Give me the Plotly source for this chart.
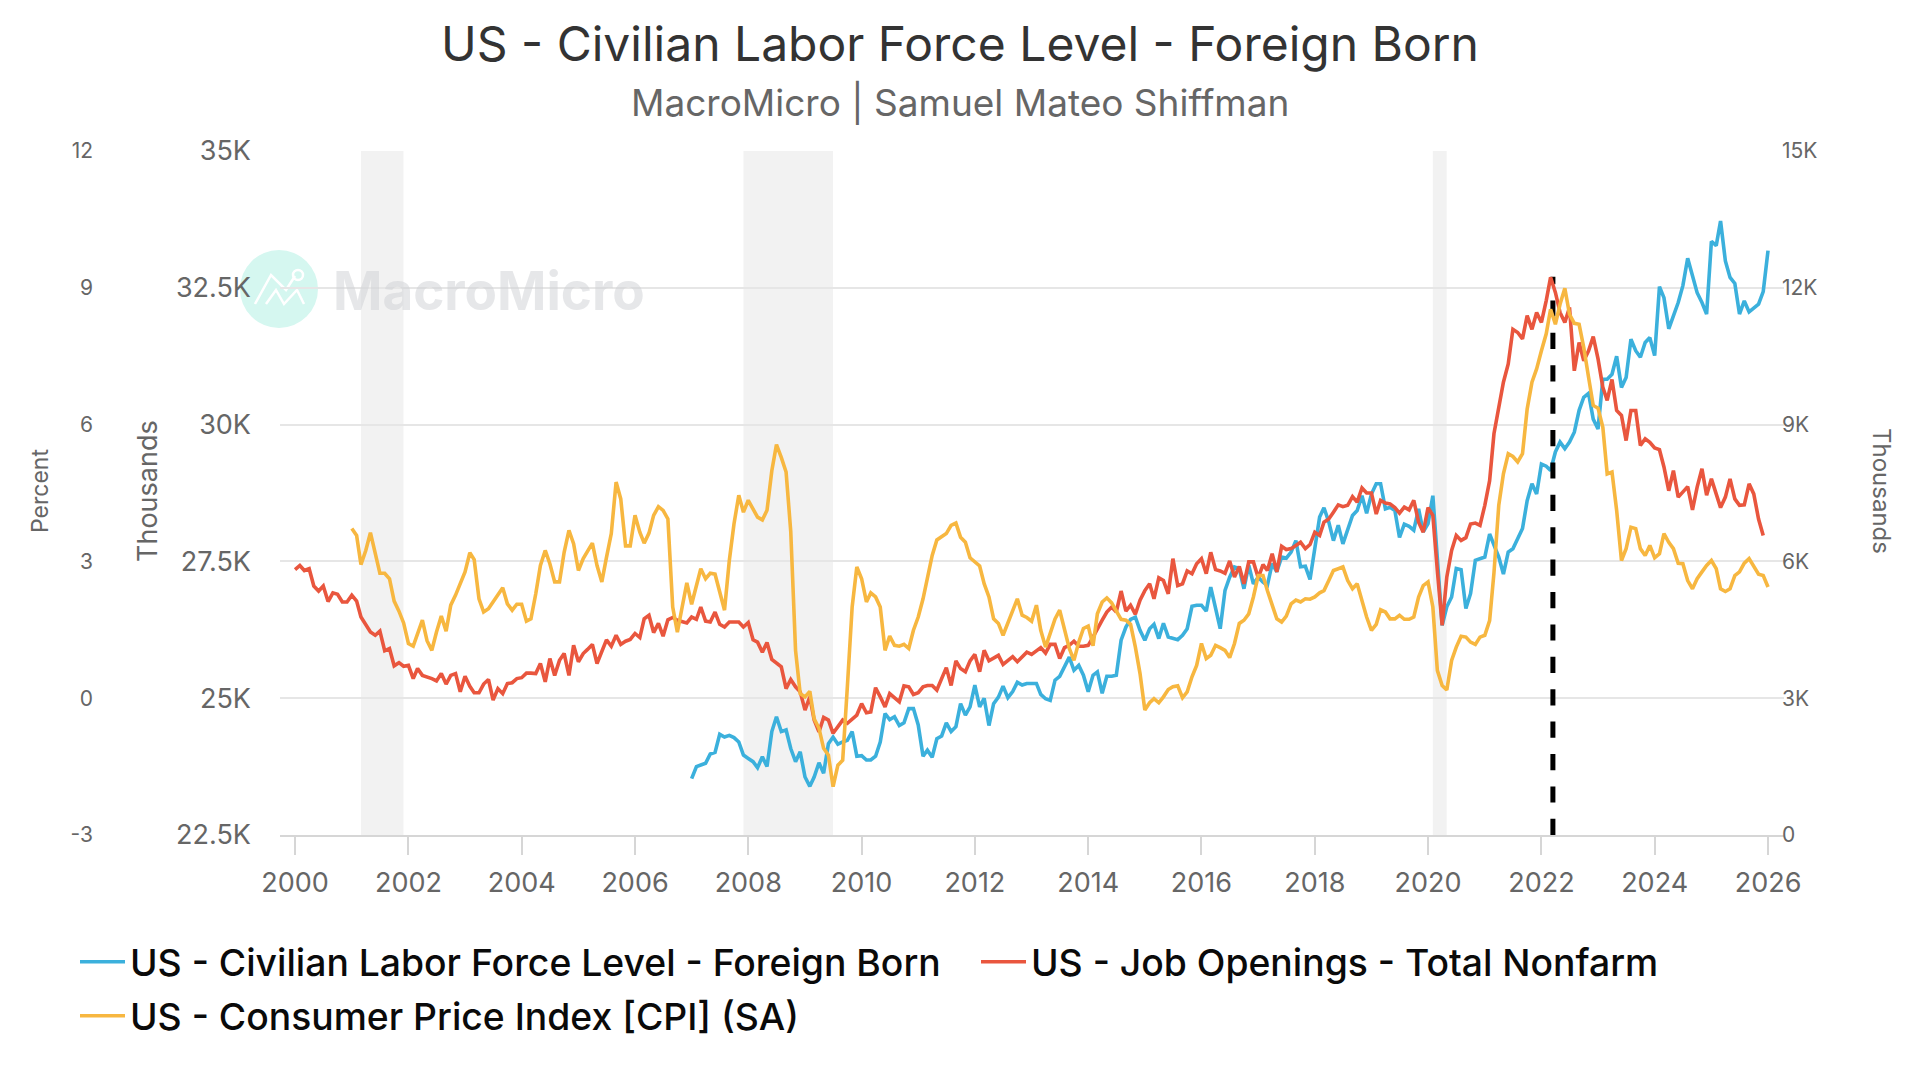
import pandas as pd
import plotly.graph_objects as go

W, H = 1920, 1080
FONT = "Inter"

# Monthly series, grouped by calendar year
labor_force = [
    23.53,23.75,23.78,23.81,23.98,24.01,24.34,24.29,24.32,24.28,24.20,23.96,
    23.90,23.84,23.73,23.93,23.75,24.39,24.66,24.39,24.42,24.08,23.84,24.02,
    23.56,23.39,23.56,23.82,23.63,24.17,24.29,24.16,24.20,24.23,24.39,23.94,
    23.95,23.87,23.87,23.94,24.20,24.72,24.61,24.66,24.50,24.55,24.81,24.81,
    24.51,23.94,24.05,23.92,24.26,24.31,24.55,24.39,24.48,24.90,24.69,24.84,
    25.24,24.84,25.00,24.50,24.90,25.02,25.22,25.01,25.12,25.29,25.24,25.27,
    25.27,25.27,25.07,24.99,24.96,25.33,25.40,25.57,25.75,25.51,25.60,25.42,
    25.12,25.42,25.48,25.09,25.40,25.40,25.42,26.06,26.30,26.44,26.48,26.24,
    26.06,26.27,26.35,26.09,26.37,26.12,26.10,26.07,26.15,26.27,26.68,26.70,
    26.70,26.59,27.03,26.67,26.27,26.97,27.21,27.40,27.37,27.00,27.43,27.09,
    27.21,27.12,27.06,27.46,27.31,27.58,27.56,27.67,27.88,27.40,27.41,27.17,
    27.76,28.31,28.48,28.22,27.88,28.16,27.82,28.07,28.34,28.43,28.70,28.38,
    28.73,28.92,28.92,28.46,28.49,28.43,27.94,28.18,28.14,28.07,28.46,28.04,
    28.19,28.70,27.64,26.33,26.67,26.85,27.37,27.35,26.64,26.91,27.52,27.55,
    27.58,28.00,27.82,27.58,27.27,27.67,27.73,27.91,28.10,28.61,28.92,28.73,
    29.28,29.24,29.16,29.50,29.68,29.56,29.68,29.86,30.26,30.50,30.57,30.10,
    29.92,30.83,30.83,30.92,31.25,30.68,30.86,31.56,31.35,31.23,31.50,31.59,
    31.26,32.52,32.32,31.75,31.99,32.23,32.54,33.04,32.72,32.41,32.23,32.02,
    33.35,33.27,33.72,32.99,32.69,32.58,32.02,32.26,32.06,32.13,32.20,32.43,
    33.18,
]
job_openings = [
    5.82,5.91,5.80,5.84,5.46,5.35,5.46,5.12,5.31,5.28,5.11,5.11,
    5.26,5.13,4.78,4.62,4.45,4.38,4.47,4.04,4.09,3.71,3.78,3.70,
    3.72,3.43,3.65,3.50,3.47,3.43,3.38,3.54,3.31,3.50,3.54,3.14,
    3.48,3.26,3.12,3.12,3.31,3.41,2.96,3.21,3.10,3.32,3.34,3.43,
    3.45,3.55,3.55,3.54,3.76,3.36,3.87,3.50,3.83,3.98,3.50,4.16,
    3.80,3.98,4.07,4.18,3.76,4.05,4.28,4.14,4.38,4.18,4.25,4.29,
    4.42,4.33,4.74,4.82,4.44,4.64,4.36,4.72,4.77,4.71,4.67,4.65,
    4.78,4.73,5.00,4.69,4.67,4.89,4.62,4.56,4.67,4.67,4.67,4.56,
    4.66,4.28,4.23,4.01,4.22,3.85,3.76,3.69,3.21,3.41,3.25,3.14,
    2.74,3.03,2.52,2.26,2.58,2.52,2.23,2.37,2.52,2.45,2.55,2.63,
    2.88,2.68,2.70,3.23,3.03,2.81,3.10,3.01,2.92,3.27,3.25,3.08,
    3.12,3.25,3.28,3.28,3.18,3.43,3.67,3.28,3.82,3.65,3.58,3.82,
    3.96,3.58,4.05,3.82,3.87,3.94,3.74,3.82,3.91,3.80,3.91,4.01,
    3.96,4.04,4.11,3.99,4.18,4.18,3.87,4.11,4.16,4.25,4.14,4.14,
    4.16,4.34,4.53,4.71,4.89,5.00,4.89,5.35,4.91,5.04,4.84,5.15,
    5.36,5.51,5.18,5.64,5.58,5.29,6.06,5.47,5.51,5.79,5.73,5.95,
    6.06,5.73,6.20,5.82,5.79,5.74,6.01,5.66,5.89,5.51,5.99,5.99,
    5.64,5.93,5.80,6.17,5.77,6.33,6.26,6.28,6.35,6.42,6.28,6.37,
    6.64,6.57,6.86,6.93,7.08,7.24,7.20,7.23,7.42,7.30,7.61,7.50,
    7.50,7.04,7.34,7.28,7.26,7.18,7.06,7.19,7.13,7.34,6.86,6.64,
    7.18,7.01,5.80,4.60,5.66,6.24,6.57,6.46,6.52,6.82,6.84,6.79,
    7.23,7.77,8.80,9.38,9.93,10.33,11.09,11.02,10.88,11.39,11.09,11.46,
    11.24,11.72,12.23,11.90,11.46,11.24,11.57,10.18,10.80,10.40,10.62,10.93,
    10.44,9.82,9.53,9.99,9.31,9.20,8.65,9.31,9.31,8.54,8.69,8.61,
    8.49,8.45,8.07,7.55,7.99,7.41,7.52,7.64,7.13,7.63,8.03,7.45,
    7.81,7.48,7.18,7.41,7.81,7.37,7.23,7.24,7.70,7.48,6.93,6.57,
]
cpi = [
    3.72,3.57,2.93,3.24,3.63,3.20,2.74,2.74,2.62,2.13,1.91,1.65,
    1.20,1.14,1.42,1.71,1.26,1.05,1.45,1.80,1.47,2.04,2.26,2.50,
    2.77,3.19,3.04,2.18,1.89,1.96,2.11,2.28,2.42,2.07,1.93,2.06,
    2.06,1.69,1.74,2.29,2.91,3.24,2.95,2.55,2.55,3.20,3.68,3.39,
    2.80,3.06,3.24,3.40,2.91,2.55,3.09,3.61,4.74,4.37,3.34,3.34,
    4.01,3.64,3.40,3.62,4.01,4.20,4.12,3.93,2.00,1.45,2.00,2.53,
    2.06,2.44,2.84,2.62,2.74,2.72,2.31,1.93,3.02,3.82,4.45,4.08,
    4.34,4.15,3.97,3.91,4.12,4.99,5.56,5.28,4.96,3.66,1.05,0.10,
    0.03,0.15,-0.45,-0.66,-1.10,-1.25,-1.94,-1.47,-1.36,0.25,2.00,2.88,
    2.62,2.11,2.31,2.22,2.00,1.05,1.36,1.16,1.14,1.18,1.09,1.49,
    1.78,2.18,2.66,3.13,3.47,3.53,3.61,3.79,3.84,3.53,3.42,3.08,
    2.99,2.90,2.51,2.22,1.74,1.64,1.38,1.65,1.91,2.18,1.82,1.77,
    1.69,2.04,1.49,1.12,1.42,1.74,1.93,1.49,1.09,0.83,1.23,1.53,
    1.58,1.15,1.85,2.11,2.20,2.09,1.93,1.73,1.71,1.62,1.12,0.54,
    -0.26,-0.10,-0.01,-0.10,0.03,0.19,0.25,0.27,0.01,0.14,0.47,0.72,
    1.20,0.87,0.94,1.16,1.11,1.05,0.89,1.20,1.64,1.71,1.85,2.22,
    2.69,2.69,2.36,2.04,1.74,1.67,1.80,2.07,2.15,2.11,2.18,2.17,
    2.22,2.31,2.36,2.58,2.80,2.84,2.88,2.58,2.40,2.51,2.11,1.78,
    1.49,1.62,1.94,1.89,1.74,1.74,1.82,1.73,1.73,1.78,2.22,2.47,
    2.55,2.00,0.61,0.28,0.18,0.83,1.12,1.36,1.34,1.23,1.18,1.34,
    1.38,1.70,2.75,4.23,4.92,5.36,5.30,5.18,5.36,6.34,6.93,7.22,
    7.62,7.99,8.53,8.20,8.64,8.99,8.42,8.22,8.20,7.69,7.04,6.42,
    6.36,5.94,4.92,4.96,4.12,3.02,3.28,3.75,3.72,3.28,3.13,3.35,
    3.08,3.17,3.61,3.42,3.28,2.96,2.95,2.58,2.40,2.62,2.77,2.91,
    3.02,2.84,2.40,2.34,2.40,2.69,2.77,2.96,3.06,2.89,2.72,2.69,
    2.44,
]

labor_dates = pd.date_range("2007-01-01", periods=len(labor_force), freq="MS")
jobs_dates = pd.date_range("2000-01-01", periods=len(job_openings), freq="MS")
cpi_dates = pd.date_range("2001-01-01", periods=len(cpi), freq="MS")

recessions = [("2001-03-01", "2001-11-30"), ("2007-12-01", "2009-06-30"), ("2020-02-01", "2020-04-30")]
marker_date = ["2022-03-16", "2022-03-16"]
marker_span = [0, 12.24]

left_vals = [22.5, 25, 27.5, 30, 32.5, 35]
left_text = ["22.5K", "25K", "27.5K", "30K", "32.5K", "35K"]
right_vals = [0, 3, 6, 9, 12, 15]
right_text = ["0", "3K", "6K", "9K", "12K", "15K"]
pct_vals = [-3, 0, 3, 6, 9, 12]
pct_text = ["-3", "0", "3", "6", "9", "12"]

BLUE, RED, YELLOW = "#3BB0DC", "#E9563E", "#F7B740"
PLOT_L, PLOT_R, PLOT_T, PLOT_B = 280, 1784, 151, 835


def fx(px):
    return px / W


def fy(px):
    return 1 - px / H


fig = go.Figure()
fig.add_trace(go.Scatter(x=labor_dates, y=labor_force, mode="lines", yaxis="y",
                         name="US - Civilian Labor Force Level - Foreign Born",
                         line=dict(color=BLUE, width=3.6), legend="legend"))
fig.add_trace(go.Scatter(x=marker_date, y=marker_span, mode="lines", yaxis="y2", showlegend=False,
                         line=dict(color="#000000", width=5, dash="16.2px,16.2px"), hoverinfo="skip"))
fig.add_trace(go.Scatter(x=jobs_dates, y=job_openings, mode="lines", yaxis="y2",
                         name="US - Job Openings - Total Nonfarm",
                         line=dict(color=RED, width=3.6), legend="legend2"))
fig.add_trace(go.Scatter(x=cpi_dates, y=cpi, mode="lines", yaxis="y3",
                         name="US - Consumer Price Index [CPI] (SA)",
                         line=dict(color=YELLOW, width=3.6), legend="legend3"))

shapes = [
    dict(type="rect", xref="x", yref="paper", x0=a, x1=b, y0=fy(PLOT_B), y1=fy(PLOT_T),
         fillcolor="#F2F2F2", line_width=0, layer="below")
    for a, b in recessions
]


# Watermark badge: a pale disc with a small white chart glyph
def logo_path(points):
    return "M " + " L ".join(f"{fx(x):.5f},{fy(y):.5f}" for x, y in points)


shapes.append(dict(type="circle", xref="paper", yref="paper", x0=fx(240), x1=fx(318),
                   y0=fy(328), y1=fy(250), fillcolor="#D5F7F0", line_width=0, layer="below"))
for pts in ([(255, 304), (271, 275), (286, 290), (295, 276)],
            [(266, 304), (276, 290), (284, 304), (297, 290), (304, 304)]):
    shapes.append(dict(type="path", xref="paper", yref="paper", path=logo_path(pts),
                       line=dict(color="#FFFFFF", width=2.5), layer="below"))
shapes.append(dict(type="circle", xref="paper", yref="paper", x0=fx(293), x1=fx(303),
                   y0=fy(280), y1=fy(270), line=dict(color="#FFFFFF", width=2.5), layer="below"))

tick_grey = "#666666"
annotations = [
    dict(text="MacroMicro | Samuel Mateo Shiffman", xref="paper", yref="paper", x=0.5, y=fy(102),
         xanchor="center", yanchor="middle", showarrow=False,
         font=dict(family=FONT, size=37, color="#666666")),
    dict(text="MacroMicro", xref="paper", yref="paper", x=fx(331), y=fy(291),
         xanchor="left", yanchor="middle", showarrow=False,
         font=dict(family=FONT, size=53, color="rgba(205,208,211,0.5)", weight=700)),
    dict(text="Percent", xref="paper", yref="paper", x=fx(40), y=fy(491), textangle=-90,
         xanchor="center", yanchor="middle", showarrow=False,
         font=dict(family=FONT, size=23, color=tick_grey)),
    dict(text="Thousands", xref="paper", yref="paper", x=fx(147), y=fy(491), textangle=-90,
         xanchor="center", yanchor="middle", showarrow=False,
         font=dict(family=FONT, size=27, color=tick_grey)),
    dict(text="Thousands", xref="paper", yref="paper", x=fx(1882), y=fy(491), textangle=90,
         xanchor="center", yanchor="middle", showarrow=False,
         font=dict(family=FONT, size=24, color=tick_grey)),
]

legend_common = dict(orientation="v", bgcolor="rgba(0,0,0,0)", xanchor="left", yanchor="middle",
                     itemwidth=45, font=dict(family=FONT, size=37.3, color="#0A0A0A", weight=500),
                     borderwidth=0)

fig.update_layout(
    width=W, height=H, autosize=False,
    margin=dict(l=0, r=0, t=0, b=0, pad=0, autoexpand=False),
    paper_bgcolor="#FFFFFF", plot_bgcolor="rgba(0,0,0,0)",
    font=dict(family=FONT, color=tick_grey),
    title=dict(text="US - Civilian Labor Force Level - Foreign Born", x=0.5, xanchor="center",
               y=fy(44), yanchor="middle", font=dict(family=FONT, size=48, color="#333333")),
    xaxis=dict(type="date", domain=[fx(PLOT_L), fx(PLOT_R)], range=["1999-09-26", "2026-04-14"],
               dtick="M24", tick0="2000-01-01", tickformat="%Y", showgrid=False,
               ticks="outside", ticklen=18, tickwidth=2, tickcolor="#D6D6D6",
               showline=True, linecolor="#D6D6D6", linewidth=2,
               tickfont=dict(family=FONT, size=27, color=tick_grey), ticklabelstandoff=5),
    yaxis=dict(domain=[fy(PLOT_B), fy(PLOT_T)], range=[22.5, 35], tickvals=left_vals, ticktext=left_text,
               showgrid=True, gridcolor="#E6E6E6", gridwidth=2, zeroline=False, showline=False,
               tickfont=dict(family=FONT, size=27, color=tick_grey), ticklabelstandoff=28),
    yaxis2=dict(overlaying="y", side="right", range=[0, 15], tickvals=right_vals, ticktext=right_text,
                showgrid=False, zeroline=False, showline=False, ticklabelstandoff=-3,
                tickfont=dict(family=FONT, size=21, color=tick_grey)),
    yaxis3=dict(overlaying="y", side="left", anchor="free", position=fx(93), range=[-3, 12],
                tickvals=pct_vals, ticktext=pct_text, showgrid=False, zeroline=False, showline=False,
                tickfont=dict(family=FONT, size=21, color=tick_grey)),
    legend=dict(x=fx(75), y=fy(962), **legend_common),
    legend2=dict(x=fx(976), y=fy(962), **legend_common),
    legend3=dict(x=fx(75), y=fy(1016), **legend_common),
    shapes=shapes,
    annotations=annotations,
)

fig.write_html("out.html", config={"displayModeBar": False})
